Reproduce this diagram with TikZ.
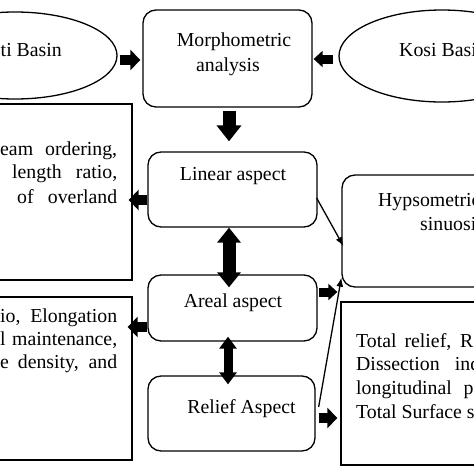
\documentclass[tikz,border=0pt]{standalone}
\usepackage{fontspec}
\setmainfont{Liberation Serif}
\usetikzlibrary{arrows.meta,shapes.geometric}
\newcommand{\tfont}{\fontsize{19.8}{24}\selectfont}
\tikzset{
  rbox/.style={draw, line width=1.3pt, rounded corners=13pt, inner sep=0pt},
  sbox/.style={draw, line width=1.3pt, inner sep=0pt},
  ell/.style={draw, ellipse, line width=1.3pt, inner sep=0pt},
  txt/.style={inner sep=0pt, font=\tfont},
  blkbig/.style={line width=13pt, -{Triangle[length=16pt,width=24pt]}},
  dblbig/.style={line width=13pt, {Triangle[length=15pt,width=23pt]}-{Triangle[length=15pt,width=23pt]}},
  dblsmall/.style={line width=9pt, {Triangle[length=12pt,width=17pt]}-{Triangle[length=12pt,width=17pt]}},
  blkmid/.style={line width=10pt, -{Triangle[length=10pt,width=20pt]}},
  blksmall/.style={line width=9pt, -{Triangle[length=9pt,width=16pt]}},
  thin/.style={line width=1.3pt, -{Latex[length=9pt,width=7pt]}}
}
\begin{document}
\begin{tikzpicture}[x=1pt,y=-1pt]
\fill[white] (0,0) rectangle (474,474);
\useasboundingbox (0,0) rectangle (474,474);
\clip (0,0) rectangle (474,474);

% shapes
\node[ell, minimum width=204pt, minimum height=87pt] (ellL) at (15,55.5) {};
\node[ell, minimum width=206pt, minimum height=92pt] (ellR) at (442,56) {};
\node[rbox, minimum width=169pt, minimum height=97pt] (morph) at (227.5,58.5) {};
\node[rbox, minimum width=169pt, minimum height=75pt] (lin) at (232.5,189.5) {};
\node[rbox, minimum width=169pt, minimum height=66pt] (are) at (232.5,308) {};
\node[rbox, minimum width=167pt, minimum height=75pt] (rel) at (231.5,413.5) {};
\node[sbox, minimum width=137pt, minimum height=176pt] (box1) at (63.5,192) {};
\node[sbox, minimum width=137pt, minimum height=163pt] (box2) at (63.5,378.5) {};
\node[rbox, minimum width=148pt, minimum height=112pt] (hyp) at (416,231) {};
\node[sbox, minimum width=149pt, minimum height=163pt] (tot) at (415.5,383.5) {};

% texts
\node[txt, anchor=base east] (tL) at (62,56) {ti Basin};
\node[txt, anchor=base west] (tR) at (399,56) {Kosi Basin};
\node[txt, anchor=base] (tM1) at (234,46) {Morphometric};
\node[txt, anchor=base] (tM2) at (228,71) {analysis};
\node[txt, anchor=base] (tLin) at (233,180) {Linear aspect};
\node[txt, anchor=base] (tAre) at (233,307) {Areal aspect};
\node[txt, anchor=base] (tRel) at (241.5,413) {Relief Aspect};

\node[txt, anchor=base west] (b1a) at (0,155) {\makebox[117pt][s]{eam ordering,}};
\node[txt, anchor=base west] (b1b) at (12,178) {\makebox[105pt][s]{length ratio,}};
\node[txt, anchor=base west] (b1c) at (17,203) {\makebox[100pt][s]{of overland}};

\node[txt, anchor=base west] (b2a) at (0,322) {\makebox[117pt][s]{io, Elongation}};
\node[txt, anchor=base west] (b2b) at (0,345) {\makebox[117pt][s]{l maintenance,}};
\node[txt, anchor=base west] (b2c) at (0,368) {\makebox[117pt][s]{e density, and}};

\node[txt, anchor=base west] (h1) at (378,206) {Hypsometric};
\node[txt, anchor=base west] (h2) at (420,230) {sinuosi};

\node[txt, anchor=base west] (r1) at (356,347) {\makebox[117pt][s]{Total relief, R}};
\node[txt, anchor=base west] (r2) at (356,370) {\makebox[124pt][s]{Dissection ind}};
\node[txt, anchor=base west] (r3) at (356,394) {\makebox[124pt][s]{longitudinal pr}};
\node[txt, anchor=base west] (r4) at (356,418) {Total Surface s};

% block arrows
\draw[blkmid] ([xshift=2pt,yshift=-4.5pt]ellL.east) -- ([xshift=-2pt,yshift=-1.5pt]morph.west);
\draw[blksmall] ([xshift=-5pt,yshift=-3pt]ellR.west) -- ([xshift=1pt,yshift=-0.5pt]morph.east);
\draw[blkbig] ([xshift=1.5pt,yshift=-3pt]morph.south) -- ([xshift=-3.5pt,yshift=10pt]lin.north);
\draw[dblbig] ([xshift=-3.5pt]lin.south) -- ([xshift=-3.5pt,yshift=-13pt]are.north);
\draw[dblsmall] ([xshift=-4.5pt,yshift=5pt]are.south) -- ([xshift=-3.5pt,yshift=-9pt]rel.north);
\draw[blkmid] ([yshift=-10.5pt]lin.west) -- ([xshift=-4pt,yshift=-8pt]box1.east);
\draw[blkmid] ([yshift=-19pt]are.west) -- ([xshift=-5pt,yshift=51.5pt]box2.east);
\draw[blksmall] ([xshift=1pt,yshift=16pt]are.east) -- ([xshift=-4pt,yshift=-61pt]hyp.west);
\draw[blkmid] ([xshift=3pt,yshift=-4.5pt]rel.east) -- ([xshift=-3pt,yshift=-34.5pt]tot.west);

% thin arrows
\draw[thin] ([xshift=-1pt,yshift=-8.5pt]lin.east) -- ([xshift=2pt,yshift=-15pt]hyp.west);
\draw[thin] ([xshift=3pt,yshift=6.5pt]rel.east) -- ([yshift=10pt]hyp.south west);
\end{tikzpicture}
\end{document}
